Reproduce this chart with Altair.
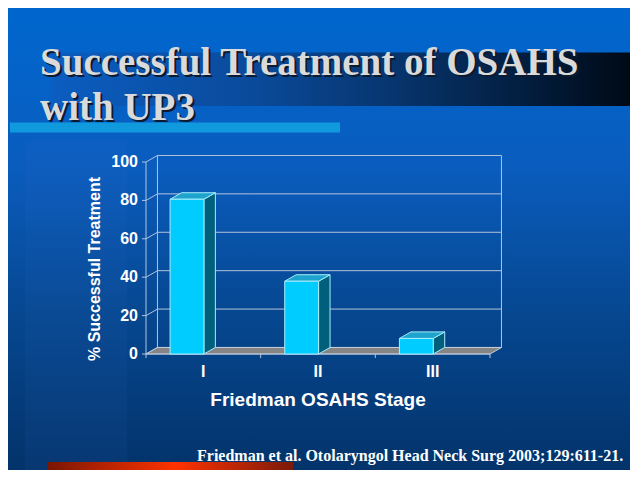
import altair as alt
import pandas as pd

# ---------------- data ----------------
categories = ["I", "II", "III"]
success_pct = [80.6, 37.9, 8.1]
y_ticks = [0, 20, 40, 60, 80, 100]
x_bounds = [0, 1, 2, 3]
title_lines = ["Successful Treatment of OSAHS", "with UP3"]
citation = "Friedman et al. Otolaryngol Head Neck Surg 2003;129:611-21."
x_title = "Friedman OSAHS Stage"
y_title = "% Successful Treatment"

# ---------------- geometry (style) ----------------
BAR_L, BAR_R = 0.21, 0.505   # bar front face within each category band
DX, DY = 0.1, 3.4            # 3-D depth offset in data units
TX, TY = 0.035, 2.1          # tick lengths in data units
W, H = 344, 192
PAD = {"left": 138, "top": 154, "right": 140, "bottom": 116}

xs = alt.Scale(domain=[0, 3], nice=False, zero=False)
ys = alt.Scale(domain=[0, 100], nice=False, zero=False)

LINE = "#b4c4dc"
FRONT = "#00ccff"
TOP = "#1ea4cc"
SIDE = "#00607c"
EDGE = "#a8ecff"
SANS = "Liberation Sans"

one = alt.Data(values=[{}])


def prect(x1, x2, y1, y2, **kw):
    return alt.Chart(one).mark_rect(**kw).encode(
        x=alt.value(x1), x2=alt.value(x2), y=alt.value(y1), y2=alt.value(y2))


def ptext(txt, x, y, **kw):
    return alt.Chart(one).mark_text(text=txt, **kw).encode(
        x=alt.value(x), y=alt.value(y))


def X(f):
    return alt.X(f, type="quantitative", scale=xs, axis=None)


def Y(f):
    return alt.Y(f, type="quantitative", scale=ys, axis=None)


# ---------------- slide decorations ----------------
bg = prect(-PAD["left"], W + PAD["right"], -PAD["top"], H + PAD["bottom"],
           color=alt.Gradient(gradient="linear", x1=0, x2=0, y1=0, y2=1,
                              stops=[alt.GradientStop(color="#0067cf", offset=0),
                                     alt.GradientStop(color="#0a5cbd", offset=0.35),
                                     alt.GradientStop(color="#064892", offset=0.65),
                                     alt.GradientStop(color="#03336a", offset=1)]))
left_stripe = prect(-121, -19, -22, H + PAD["bottom"], color="#3b78c8", opacity=0.08)
band = prect(-94, W + PAD["right"], -109.5, -56,
             color=alt.Gradient(gradient="linear", x1=0, x2=1, y1=0, y2=0,
                                stops=[alt.GradientStop(color="#0b5dc0", offset=0),
                                       alt.GradientStop(color="#0a4a9a", offset=0.35),
                                       alt.GradientStop(color="#07346c", offset=0.6),
                                       alt.GradientStop(color="#021a38", offset=0.85),
                                       alt.GradientStop(color="#000a16", offset=1)]))
light_bar = prect(-136, 194, -39.5, -29.5, color="#1199dd")
red_bar = prect(-98, 147, 300, 316,
                color=alt.Gradient(gradient="linear", x1=0, x2=1, y1=0, y2=0,
                                   stops=[alt.GradientStop(color="#7a1600", offset=0),
                                          alt.GradientStop(color="#ff3300", offset=0.52),
                                          alt.GradientStop(color="#7a1a08", offset=1)]))

tfont = dict(font="Liberation Serif", fontWeight="bold", fontSize=39,
             align="left", baseline="alphabetic")
title_layers = []
for i, line in enumerate(title_lines):
    yb = -87 + 45 * i
    title_layers.append(ptext(line, -104, yb + 2, color="#0c1a30", **tfont))
    title_layers.append(ptext(line, -106, yb, color="#dadada", **tfont))

cite = ptext(citation, 51, 299, font="Liberation Serif", fontWeight="bold",
             fontSize=16, color="white", align="left", baseline="alphabetic")

# ---------------- 3-D chart frame ----------------
grid_df = pd.DataFrame({"v": y_ticks})
grid_df["vb"] = grid_df["v"] + DY
grid_df["x0"] = 0.0
grid_df["xt"] = -TX
grid_df["xb"] = DX
grid_df["xe"] = 3 + DX
grid_df["lab"] = [str(v) for v in y_ticks]

back_grid = alt.Chart(grid_df).mark_rule(color=LINE, strokeWidth=1).encode(
    x=X("xb"), x2="xe:Q", y=Y("vb"))
side_grid = alt.Chart(grid_df).mark_rule(color=LINE, strokeWidth=1).encode(
    x=X("x0"), x2="xb:Q", y=Y("v"), y2="vb:Q")
walls_df = pd.DataFrame({"x": [DX, 3 + DX], "y": [DY, DY], "y2": [100 + DY, 100 + DY]})
back_vert = alt.Chart(walls_df).mark_rule(color=LINE, strokeWidth=1).encode(
    x=X("x"), y=Y("y"), y2="y2:Q")

floor_df = pd.DataFrame({"x": [0, DX, 3, 3 + DX], "y": [0, DY, DY, DY], "y2": [0, 0, 0, DY]})
floor = alt.Chart(floor_df).mark_area(color="#858585", stroke="#c4ccd8",
                                      strokeWidth=1, opacity=1).encode(
    x=X("x"), y=Y("y"), y2="y2:Q")

# ---------------- axes (drawn through the scales) ----------------
y_dom_df = pd.DataFrame({"x": [0.0], "y": [0.0], "y2": [100.0]})
y_domain = alt.Chart(y_dom_df).mark_rule(color=LINE, strokeWidth=1).encode(
    x=X("x"), y=Y("y"), y2="y2:Q")
y_tick_marks = alt.Chart(grid_df).mark_rule(color=LINE, strokeWidth=1).encode(
    x=X("xt"), x2="x0:Q", y=Y("v"))
y_labels = alt.Chart(grid_df).mark_text(
    font=SANS, fontWeight="bold", fontSize=16, color="white",
    align="right", baseline="middle", dx=-8).encode(
    x=X("x0"), y=Y("v"), text="lab:N")

xb_df = pd.DataFrame({"x": x_bounds})
xb_df["y"] = 0.0
xb_df["yt"] = -TY
x_dom_df = pd.DataFrame({"x": [0.0], "x2": [3.0], "y": [0.0]})
x_domain = alt.Chart(x_dom_df).mark_rule(color=LINE, strokeWidth=1).encode(
    x=X("x"), x2="x2:Q", y=Y("y"))
x_tick_marks = alt.Chart(xb_df).mark_rule(color=LINE, strokeWidth=1).encode(
    x=X("x"), y=Y("y"), y2="yt:Q")

x_title_t = ptext(x_title, 172, 238, font=SANS, fontWeight="bold", fontSize=19,
                  color="white", align="center", baseline="middle")
y_title_t = ptext(y_title, -51, 107, font=SANS, fontWeight="bold", fontSize=16,
                  color="white", align="center", baseline="middle", angle=270)

# ---------------- bars ----------------
bars_df = pd.DataFrame({"cat": categories, "idx": list(range(len(categories))), "v": success_pct})
bars_df["xl"] = bars_df["idx"] + BAR_L
bars_df["xr"] = bars_df["idx"] + BAR_R
bars_df["xc"] = bars_df["idx"] + 0.5
bars_df["zero"] = 0.0

side_rows, top_rows = [], []
for c, xl, xr, v in zip(categories, bars_df["xl"], bars_df["xr"], success_pct):
    side_rows += [{"cat": c, "x": xr, "y": v, "y2": 0},
                  {"cat": c, "x": xr + DX, "y": v + DY, "y2": DY}]
    top_rows += [{"cat": c, "x": xl, "y": v, "y2": v},
                 {"cat": c, "x": xl + DX, "y": v + DY, "y2": v},
                 {"cat": c, "x": xr, "y": v + DY, "y2": v},
                 {"cat": c, "x": xr + DX, "y": v + DY, "y2": v + DY}]

side = alt.Chart(pd.DataFrame(side_rows)).mark_area(
    color=SIDE, stroke=EDGE, strokeWidth=1, opacity=1).encode(
    x=X("x"), y=Y("y"), y2="y2:Q", detail="cat:N")
top = alt.Chart(pd.DataFrame(top_rows)).mark_area(
    color=TOP, stroke=EDGE, strokeWidth=1, opacity=1).encode(
    x=X("x"), y=Y("y"), y2="y2:Q", detail="cat:N")
front = alt.Chart(bars_df).mark_rect(color=FRONT, stroke=EDGE, strokeWidth=1).encode(
    x=X("xl"), x2="xr:Q", y=Y("v"), y2="zero:Q")

cat_labels = alt.Chart(bars_df).mark_text(
    font=SANS, fontWeight="bold", fontSize=16, color="white",
    baseline="middle", dy=18).encode(
    x=X("xc"), y=Y("zero"), text="cat:N")

chart = alt.layer(
    bg, left_stripe, band, light_bar, red_bar, *title_layers, cite,
    back_grid, side_grid, back_vert, floor,
    y_domain, y_tick_marks, x_domain, x_tick_marks,
    side, top, front,
    y_labels, cat_labels, x_title_t, y_title_t
).properties(
    width=W, height=H,
    autosize=alt.AutoSizeParams(type="none"),
    padding=PAD,
).configure(background="#03336a").configure_view(stroke=None)

chart.save("out.html", embed_options={"renderer": "svg", "actions": False})
